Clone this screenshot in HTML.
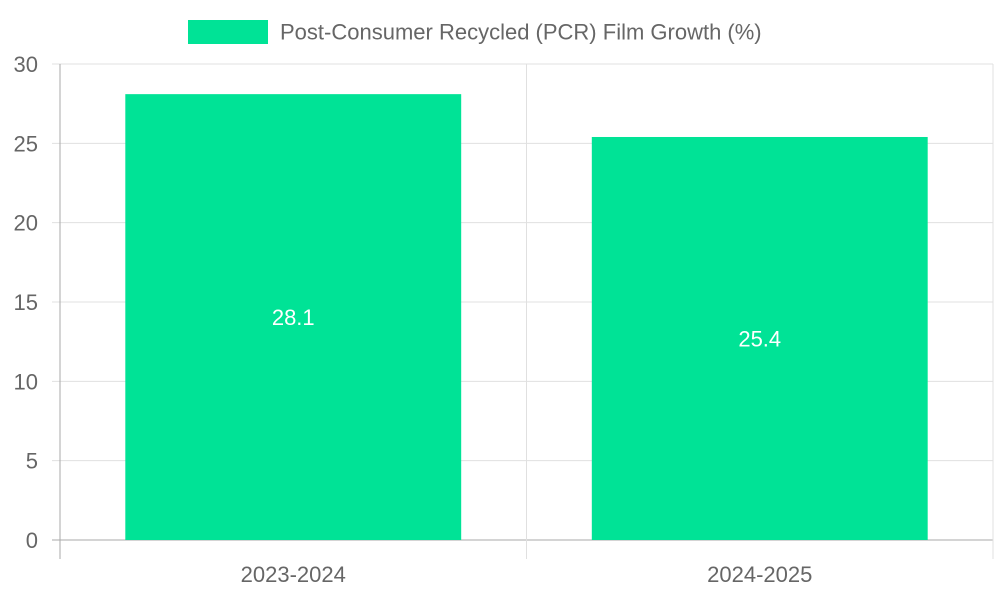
<!DOCTYPE html>
<html><head><meta charset="utf-8"><style>
html,body{margin:0;padding:0;background:#fff;}
svg{display:block;font-family:"Liberation Sans",sans-serif;}
</style></head><body>
<svg id="chart" width="1000" height="600">
<g>
<rect x="188" y="20" width="80" height="24" fill="#00e396"></rect>
<text x="280" y="39.5" font-size="22" fill="#666">Post-Consumer Recycled (PCR) Film Growth (%)</text>
</g>
<g id="grid"></g>
<g id="bars"></g>
<g id="axes"></g>
</svg>
<script>
const categories = ["2023-2024", "2024-2025"];
const values = [28.1, 25.4];
const yTicks = [0, 5, 10, 15, 20, 25, 30];
const NS = "http://www.w3.org/2000/svg";
const L = 60, R = 993, T = 64, B = 540, yMax = 30;
const y = v => B - (v / yMax) * (B - T);
const band = (R - L) / categories.length;
const x = i => L + band * i;
function mk(tag, attrs, parent) {
  const e = document.createElementNS(NS, tag);
  for (const k in attrs) e.setAttribute(k, attrs[k]);
  parent.appendChild(e);
  return e;
}
const grid = document.getElementById("grid");
const axes = document.getElementById("axes");
const bars = document.getElementById("bars");
yTicks.forEach(t => {
  const g = mk("line", {x1: L - 8, x2: R, y1: y(t), y2: y(t), stroke: t === 0 ? "#aaa" : "#e0e0e0", "stroke-width": 1}, grid);
  
  
  const lb = mk("text", {x: L - 22, y: y(t) + 8, "font-size": 22, fill: "#666", "text-anchor": "end"}, axes);
  lb.textContent = t;
  
  
});
for (let i = 0; i <= categories.length; i++) {
  const g = mk("line", {x1: x(i), x2: x(i), y1: T, y2: B + 19, stroke: i === 0 ? "#aaa" : "#e0e0e0", "stroke-width": 1}, grid);
  
  
}
categories.forEach((c, i) => {
  const bw = band * 0.72;
  const bx = x(i) + (band - bw) / 2;
  const r = mk("rect", {x: bx, y: y(values[i]), width: bw, height: B - y(values[i]), fill: "#00e396"}, bars);
  
  
  const v = mk("text", {x: bx + bw / 2, y: (y(values[i]) + B) / 2 + 8, "font-size": 22, fill: "#fff", "text-anchor": "middle"}, bars);
  v.textContent = values[i];
  
  
  const cl = mk("text", {x: x(i) + band / 2, y: 582, "font-size": 22, fill: "#666", "text-anchor": "middle"}, axes);
  cl.textContent = c;
  
  
});
</script>
</body></html>
